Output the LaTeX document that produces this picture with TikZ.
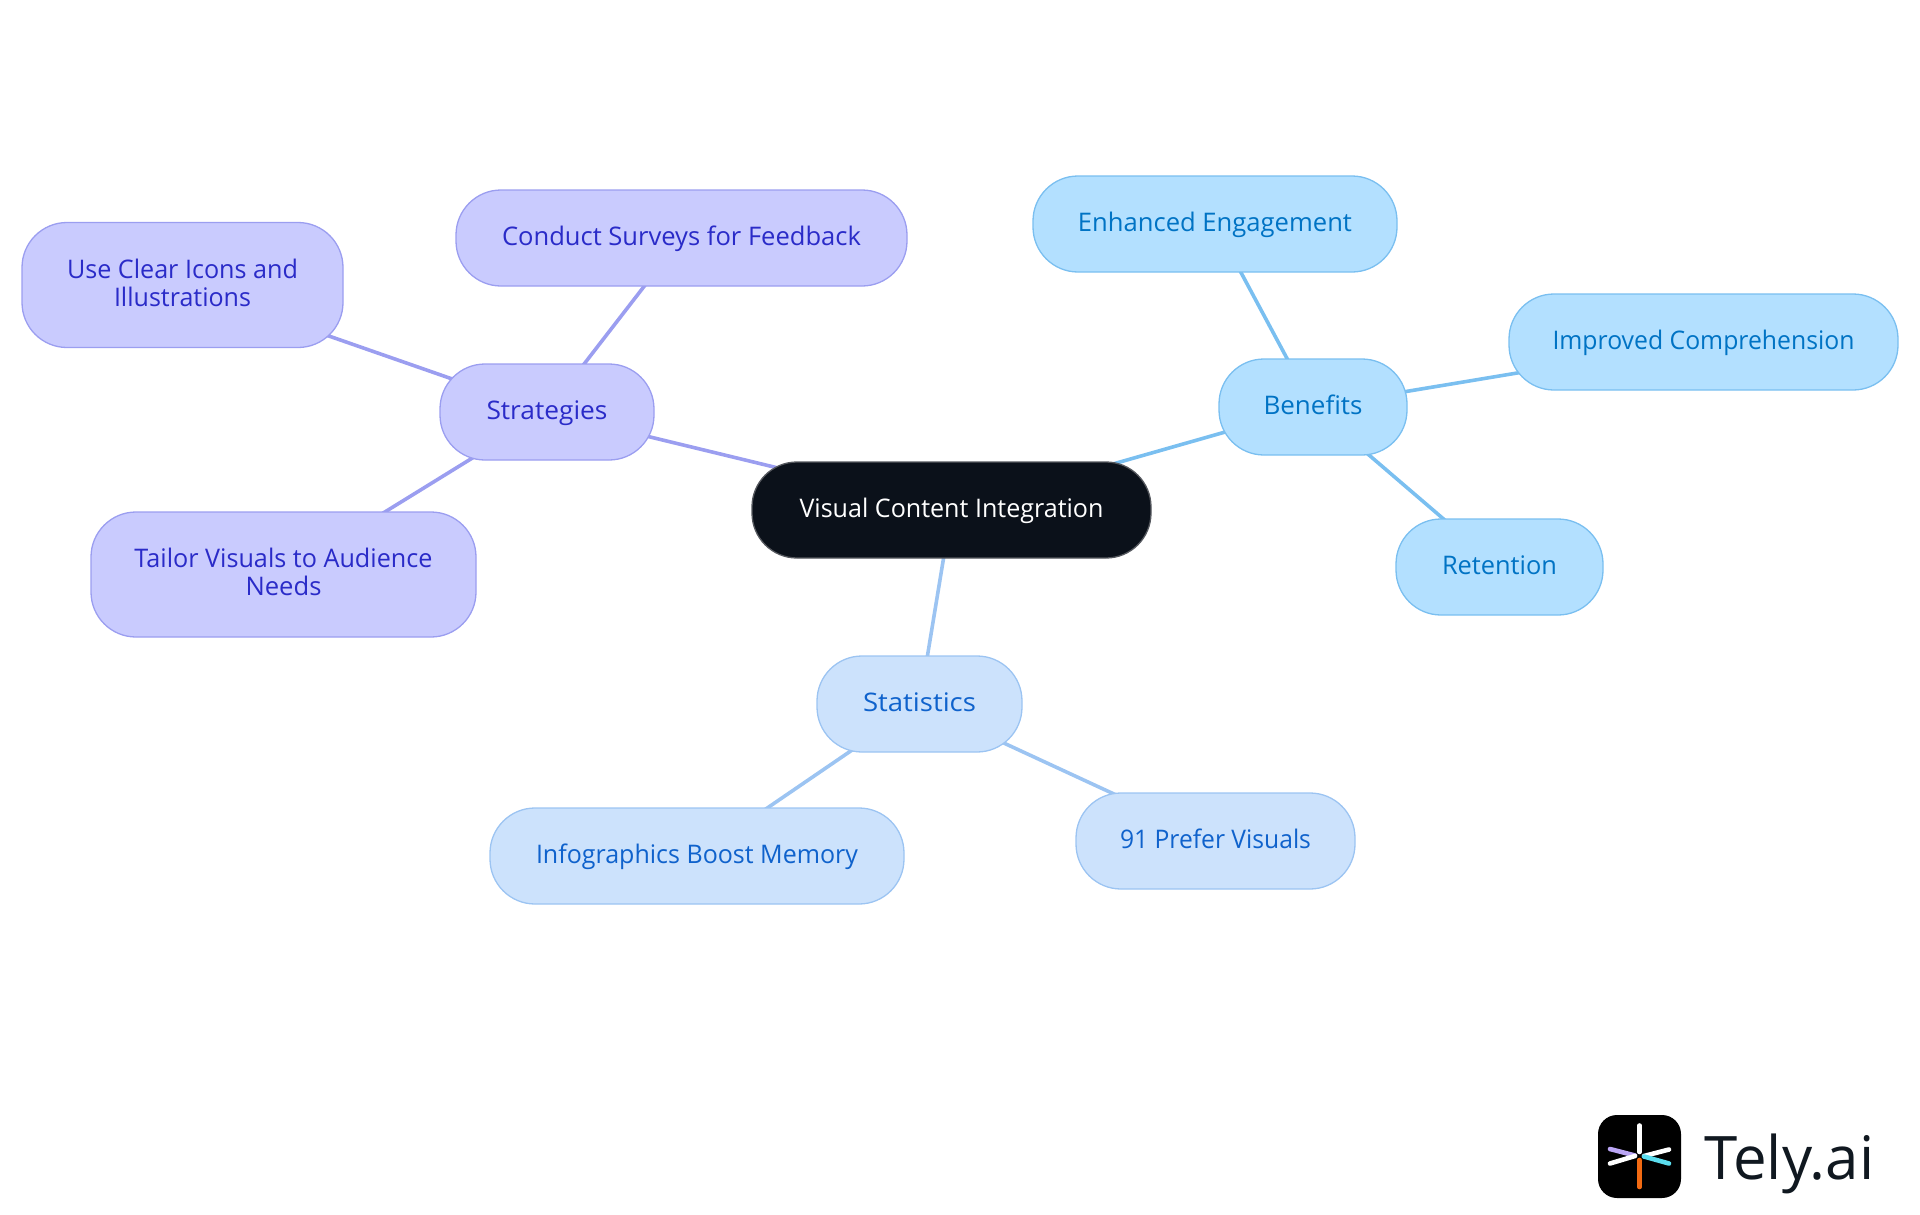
\documentclass[tikz,border=0pt]{standalone}
\usepackage{fontspec}
\usepackage{graphicx}
\setmainfont{Open Sans}[Scale=1.0]
\newfontfamily\logofont{Open Sans}
\usetikzlibrary{backgrounds}
\definecolor{rootfill}{HTML}{0B111A}
\definecolor{rootline}{HTML}{55585E}
\definecolor{pfill}{HTML}{C9CBFE}
\definecolor{pline}{HTML}{9B9EF0}
\definecolor{ptext}{HTML}{2A2BC8}
\definecolor{bfill}{HTML}{B3E0FF}
\definecolor{bline}{HTML}{7ABFF0}
\definecolor{btext}{HTML}{0073C4}
\definecolor{sfill}{HTML}{CCE2FC}
\definecolor{sline}{HTML}{9CC4F2}
\definecolor{stext}{HTML}{0F62CC}
\definecolor{logotext}{HTML}{101820}
\definecolor{logoviolet}{HTML}{BBA6F5}
\definecolor{logocyan}{HTML}{5BDDEE}
\definecolor{logoorange}{HTML}{F26A12}
\newcommand{\mystrut}{\rule[-0.2em]{0pt}{1em}}
\newcommand{\tw}[2]{\resizebox{#1pt}{\height}{#2}}
\tikzset{
  x=1pt,y=-1pt,
  mm/.style={rounded corners=45pt,line width=1.3pt,inner sep=0pt,align=center,
    font=\fontsize{25.6}{28}\selectfont,
    execute at begin node=\mystrut,execute at end node=\mystrut},
  rootbox/.style={mm,fill=rootfill,draw=rootline,text=white},
  pbox/.style={mm,fill=pfill,draw=pline,text=ptext},
  bbox/.style={mm,fill=bfill,draw=bline,text=btext},
  sbox/.style={mm,fill=sfill,draw=sline,text=stext},
  pedge/.style={draw=pline,line width=3.6pt},
  bedge/.style={draw=bline,line width=3.6pt},
  sedge/.style={draw=sline,line width=3.6pt},
  ray/.style={line width=4.6pt,line cap=round},
}
\begin{document}
\begin{tikzpicture}
\useasboundingbox (0,0) rectangle (1920,1215);
\node[rootbox,minimum width=399pt,minimum height=96pt] (root) at (951.5,510) {\tw{304}{Visual Content Integration}};
\node[pbox,minimum width=214pt,minimum height=96pt] (strat) at (547,412) {\tw{121}{Strategies}};
\node[pbox,minimum width=451pt,minimum height=96pt] (survey) at (681.5,238) {\tw{359}{Conduct Surveys for Feedback}};
\node[pbox,minimum width=321pt,minimum height=125pt] (icons) at (182.5,285) {\tw{231}{Use Clear Icons and}\\\tw{137}{Illustrations}};
\node[pbox,minimum width=385pt,minimum height=125pt] (tailor) at (283.5,574.5) {\tw{298}{Tailor Visuals to Audience}\\\tw{76}{Needs}};
\node[bbox,minimum width=188pt,minimum height=96pt] (benefits) at (1313,407) {\tw{99}{Benefits}};
\node[bbox,minimum width=364pt,minimum height=96pt] (engage) at (1215,224) {\tw{274}{Enhanced Engagement}};
\node[bbox,minimum width=389pt,minimum height=96pt] (comp) at (1703.5,342) {\tw{302}{Improved Comprehension}};
\node[bbox,minimum width=207pt,minimum height=96pt] (reten) at (1499.5,567) {\tw{115}{Retention}};
\node[sbox,minimum width=205pt,minimum height=96pt] (stats) at (919.5,704) {\tw{113}{Statistics}};
\node[sbox,minimum width=414pt,minimum height=96pt] (info) at (697,856) {\tw{322}{Infographics Boost Memory}};
\node[sbox,minimum width=279pt,minimum height=96pt] (prefer) at (1215.5,841) {\tw{191}{91 Prefer Visuals}};
\begin{scope}[on background layer]
\draw[pedge] (root.center) -- (strat.center);
\draw[pedge] (strat.center) -- (survey.center);
\draw[pedge] (strat.center) -- (icons.center);
\draw[pedge] (strat.center) -- (tailor.center);
\draw[bedge] (root.center) -- (benefits.center);
\draw[bedge] (benefits.center) -- (engage.center);
\draw[bedge] (benefits.center) -- (comp.center);
\draw[bedge] (benefits.center) -- (reten.center);
\draw[sedge] (root.center) -- (stats.center);
\draw[sedge] (stats.center) -- (info.center);
\draw[sedge] (stats.center) -- (prefer.center);
\end{scope}
% logo
\fill[black,rounded corners=19pt] (1598,1115) rectangle (1681,1198);
\draw[ray,white] (1639.5,1125.5) -- (1639.5,1152);
\draw[ray,logoorange] (1639.5,1160) -- (1639.5,1187);
\draw[ray,logoviolet] (1610,1149) -- (1635,1155.5);
\draw[ray,white] (1610,1163.5) -- (1635,1156);
\draw[ray,white] (1669,1149.5) -- (1644,1156);
\draw[ray,logocyan] (1669,1163.5) -- (1644,1156.5);
\node[anchor=base west,inner sep=0pt,text=logotext,font=\logofont\fontsize{60}{60}\selectfont] (logo) at (1704,1179) {Tely.ai};
\end{tikzpicture}
\end{document}
